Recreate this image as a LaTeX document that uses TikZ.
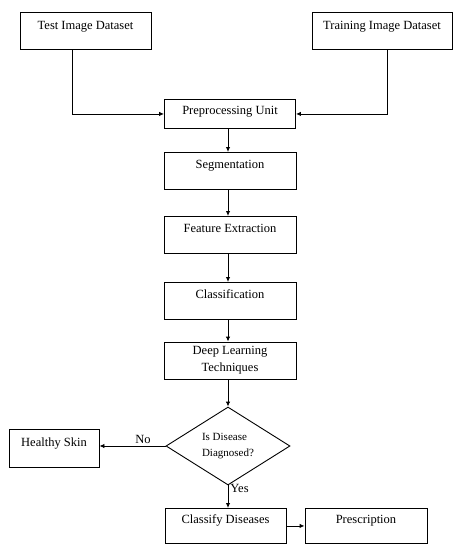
\documentclass[tikz,border=0pt]{standalone}
\usepackage{fontspec}
\setmainfont{Liberation Serif}
\usetikzlibrary{shapes.geometric,arrows.meta}
\begin{document}
\begin{tikzpicture}[x=1pt,y=1pt,
 box/.style={draw, line width=0.9pt, inner sep=0pt, anchor=north, align=center, font=\fontsize{12.5}{17}\selectfont},
 arr/.style={draw, line width=0.9pt, -{Latex[length=5pt,width=4.5pt]}},
 lbl/.style={font=\fontsize{12.5}{15}\selectfont, inner sep=2pt},
]
\useasboundingbox (0,0) rectangle (461,-550);
\node[box, minimum width=131pt, text height=17pt, text depth=20pt] (test) at (85.5,-12) {Test Image Dataset};
\node[box, minimum width=140pt, text height=17pt, text depth=20pt] (train) at (382,-12) {Training Image Dataset};
\node[box, minimum width=131pt, text height=15pt, text depth=14pt] (pre) at (230,-99) {Preprocessing Unit};
\node[box, minimum width=132pt, text height=16pt, text depth=21pt] (seg) at (230,-152) {Segmentation};
\node[box, minimum width=132pt, text height=16pt, text depth=21pt] (feat) at (230,-216) {Feature Extraction};
\node[box, minimum width=132pt, text height=16pt, text depth=21pt] (cls) at (230,-282) {Classification};
\node[box, minimum width=132pt, minimum height=37pt, anchor=center] (deep) at (230,-360.5) {Deep Learning\\Techniques};
\node[draw, line width=0.9pt, diamond, aspect=1.6, minimum width=124pt, minimum height=78pt, inner sep=0pt, align=left, font=\fontsize{11}{16}\selectfont] (dia) at (228,-446) {Is Disease\\Diagnosed?};
\node[box, minimum width=90pt, text height=17pt, text depth=21pt] (heal) at (54,-429) {Healthy Skin};
\node[box, minimum width=121pt, text height=15pt, text depth=20pt] (clsd) at (225.5,-508) {Classify Diseases};
\node[box, minimum width=122pt, text height=15pt, text depth=20pt] (pres) at (366,-508) {Prescription};

\draw[arr] (test.south -| 72,0) |- (pre.west);
\draw[arr] (train.south -| 387,0) |- (pre.east);
\draw[arr] (pre.south -| 228,0) -- (seg.north -| 228,0);
\draw[arr] (seg.south -| 228,0) -- (feat.north -| 228,0);
\draw[arr] (feat.south -| 228,0) -- (cls.north -| 228,0);
\draw[arr] (cls.south -| 228,0) -- (deep.north -| 228,0);
\draw[arr] (deep.south -| 228,0) -- (dia.north);
\draw[arr] (dia.west) -- node[lbl, above, pos=0.34] (no) {No} (dia.west -| heal.east);
\draw[arr] (dia.south) -- node[lbl, right, pos=0.15] (yes) {Yes} (dia.south |- clsd.north);
\draw[arr] (clsd.east) -- (pres.west);
\end{tikzpicture}
\end{document}
